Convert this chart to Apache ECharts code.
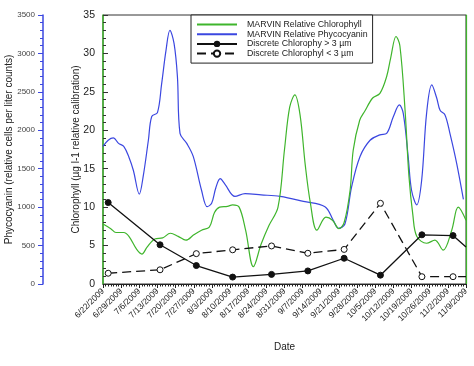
<!DOCTYPE html>
<html><head><meta charset="utf-8">
<script src="https://cdn.jsdelivr.net/npm/echarts@6/dist/echarts.min.js"></script>
<style>html,body{margin:0;padding:0;background:#fff}#c{width:474px;height:366px}</style>
</head><body><div id="c"></div>
<script>
// Tick labels (weekly, starting 6/22/2009 = day 0)
const dateLabels = ['6/22/2009','6/29/2009','7/6/2009','7/13/2009','7/20/2009','7/27/2009','8/3/2009','8/10/2009','8/17/2009','8/24/2009','8/31/2009','9/7/2009','9/14/2009','9/21/2009','9/28/2009','10/5/2009','10/12/2009','10/19/2009','10/26/2009','11/2/2009','11/9/2009'];

// MARVIN relative chlorophyll (day offset, value)
const chlDays = [0,3,5,8,10,13,15,17,20,23,26,29,32,35,38,41,43,45,48,50,52.5,55,58,61,64,67.5,70,72,74,76,78,80,82.5,86,88.5,91,93,95.3,96.5,99,101,104,106.8,109.4,111,113,114.5,116.5,118,119.5,121,124.8,128,131.2,134.5,137,140];
const chlVals = [7.8,7.2,6.7,6.7,6.2,4.5,3.9,4.8,5.85,6.0,6.6,6.2,5.7,6.4,7.0,7.4,9.3,10.0,10.1,10.3,10.0,7.0,2.25,5.2,7.6,10.0,17.5,23,24.6,22,15.5,10.5,7.0,8.7,8.3,7.2,8.0,12.2,17.4,21.3,22.5,24.2,24.8,27,29.5,32.2,31,22.6,14,9,6.2,5.3,5.7,4.4,7.0,10.0,8.3];

// MARVIN relative phycocyanin (day offset, relative cells per liter)
const pcDays = [0,2,4,6,8,10,11.7,14,15.5,17.5,18.8,21,22.6,24.3,25.8,27.4,28.7,29.7,32.3,34.8,38,40.2,41.9,43.5,45.2,47,50.9,54.8,61,68.3,77.3,85.6,88.8,90.8,93.3,95.9,99.1,103,106.8,109.4,112,114.3,115.8,117.7,119,121,122.9,124.8,126.8,128.7,130,131.9,133.8,136.4,139];
const pcVals = [1790,1870,1900,1830,1790,1650,1480,1170,1400,1870,2180,2230,2600,3040,3300,3130,2700,1960,1830,1660,1220,1006,1050,1250,1370,1300,1140,1175,1160,1140,1075,1006,830,724,780,1266,1656,1870,1940,1960,2180,2330,2220,1656,1220,1030,1350,2220,2590,2420,2260,2200,1960,1570,1100];

// Discrete samples
const discDays = [2,22,36,50,65,79,93,107,123,135,140];
const discLarge = [10.6,5.1,2.4,0.9,1.25,1.7,3.35,1.15,6.4,6.3,4.8];
const discSmall = [1.4,1.85,3.95,4.45,4.95,4.0,4.5,10.5,0.95,0.95,0.95];

const GREEN = '#3fb52c', BLUE = '#3b47e0';
const FONT = 'Arial, "Liberation Sans", sans-serif';
const zip = (a, b, hideLast) => a.map((d, i) => {
  const p = {value: [d, b[i]]};
  if (hideLast && i === a.length - 1) p.symbolSize = 0;
  return p;
});

const chart = echarts.init(document.getElementById('c'), null, {renderer: 'canvas'});
chart.setOption({
  animation: false,
  textStyle: {fontFamily: FONT},
  grid: {left: 103, right: 8, top: 15, bottom: 82, outerBoundsMode: 'none', containLabel: false,
         show: true, borderColor: '#333', borderWidth: 1, backgroundColor: 'transparent'},
  legend: {
    orient: 'vertical', left: 191, top: 15,
    itemWidth: 40, itemHeight: 8, itemGap: 0.7,
    padding: [5, 5, 5, 5],
    borderColor: '#222', borderWidth: 1, backgroundColor: '#fff',
    textStyle: {fontSize: 8.8, lineHeight: 9, color: '#222', fontFamily: FONT, padding: [0, 0, 0, 5]},
    data: [
      {name: 'MARVIN Relative Chlorophyll', itemStyle: {opacity: 0}},
      {name: 'MARVIN Relative Phycocyanin', itemStyle: {opacity: 0}},
      'Discrete Chlorophy > 3 µm',
      'Discrete Chlorophyl < 3 µm'
    ]
  },
  xAxis: {
    type: 'value', min: 0, max: 140, interval: 7,
    name: 'Date', nameLocation: 'middle', nameGap: 58,
    nameTextStyle: {fontSize: 10, color: '#222'},
    axisLine: {lineStyle: {color: '#222'}},
    axisTick: {length: 4, lineStyle: {color: '#222'}},
    minorTick: {show: true, splitNumber: 7, length: 2.5, lineStyle: {color: '#222'}},
    splitLine: {show: false},
    axisLabel: {rotate: 45, fontSize: 8.5, color: '#222', margin: 6,
      formatter: v => dateLabels[Math.round(v / 7)] || ''}
  },
  yAxis: [
    {
      type: 'value', min: 0, max: 35, interval: 5, position: 'left',
      name: 'Chlorophyll (µg l-1 relative calibration)', nameLocation: 'middle', nameGap: 22,
      nameMoveOverlap: false,
      nameTextStyle: {fontSize: 10, color: '#222'},
      axisLine: {show: true, lineStyle: {color: GREEN, width: 1.5}},
      axisTick: {inside: true, length: 5, lineStyle: {color: '#333'}},
      minorTick: {show: true, splitNumber: 5, length: 3, lineStyle: {color: '#333'}},
      splitLine: {show: false},
      axisLabel: {fontSize: 10.5, color: '#222', margin: 8}
    },
    {
      type: 'value', min: 0, max: 3500, interval: 500, position: 'left', offset: 60,
      name: 'Phycocyanin (relative cells per liter counts)', nameLocation: 'middle', nameGap: 29,
      nameMoveOverlap: false,
      nameTextStyle: {fontSize: 10, color: '#222'},
      axisLine: {show: true, lineStyle: {color: BLUE, width: 1.5}},
      axisTick: {length: 5, lineStyle: {color: BLUE}},
      minorTick: {show: true, splitNumber: 5, length: 3, lineStyle: {color: BLUE}},
      splitLine: {show: false},
      axisLabel: {fontSize: 8, color: '#444', margin: 8, formatter: v => String(v)}
    },
    {
      type: 'value', min: 0, max: 35, position: 'right',
      axisLine: {show: true, lineStyle: {color: GREEN, width: 1.2}},
      axisTick: {show: false}, axisLabel: {show: false}, splitLine: {show: false}
    }
  ],
  series: [
    {name: 'MARVIN Relative Chlorophyll', type: 'line', yAxisIndex: 0, smooth: 0.35,
     showSymbol: false, symbol: 'none', data: zip(chlDays, chlVals),
     lineStyle: {color: GREEN, width: 1.2}, itemStyle: {color: GREEN}, z: 3},
    {name: 'MARVIN Relative Phycocyanin', type: 'line', yAxisIndex: 1, smooth: 0.35,
     showSymbol: false, symbol: 'none', data: zip(pcDays, pcVals),
     lineStyle: {color: BLUE, width: 1.2}, itemStyle: {color: BLUE}, z: 2},
    {name: 'Discrete Chlorophy > 3 µm', type: 'line', yAxisIndex: 0,
     symbol: 'circle', symbolSize: 6, data: zip(discDays, discLarge, true),
     lineStyle: {color: '#111', width: 1.3}, itemStyle: {color: '#111', borderColor: '#111'}, z: 4},
    {name: 'Discrete Chlorophyl < 3 µm', type: 'line', yAxisIndex: 0,
     symbol: 'circle', symbolSize: 6, data: zip(discDays, discSmall, true),
     lineStyle: {color: '#111', width: 1.3, type: [9, 5]}, itemStyle: {color: '#fff', borderColor: '#111', borderWidth: 1}, z: 4}
  ]
});
</script>
</body></html>
